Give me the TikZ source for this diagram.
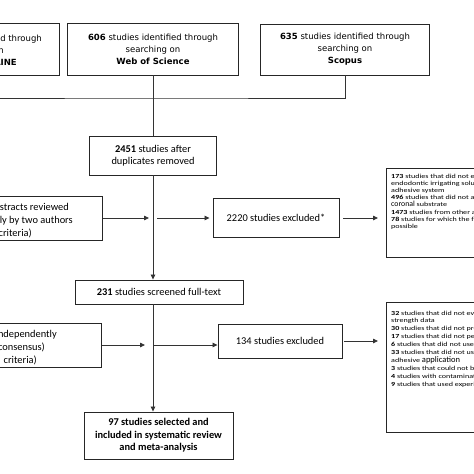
\documentclass[tikz,border=0pt]{standalone}
\usepackage{fontspec}
\setmainfont{Carlito}
\newfontfamily\verd{DejaVu Sans}
\newfontfamily\narrow[FakeStretch=1.3]{Carlito}
\usetikzlibrary{arrows.meta}
\begin{document}
\begin{tikzpicture}[x=1pt, y=-1pt, inner sep=0pt,
    box/.style={draw=black!85, line width=.9pt, align=center,
      font=\fontsize{10.4}{12.5}\selectfont},
    src/.style={box, minimum width=171pt, minimum height=52pt,
      font=\verd\fontsize{8.5}{12}\selectfont},
    note/.style={draw=black!85, line width=.9pt, minimum width=200pt},
    small/.style={align=left, font=\narrow\fontsize{6.2}{7.2}\selectfont},
    cut/.style={anchor=base east, font=\fontsize{10.4}{12.5}\selectfont},
    link/.style={draw=black!80, line width=.8pt},
    arr/.style={link, -{Triangle[length=5pt, width=4.5pt]}}]
  \useasboundingbox (0,0) rectangle (474,474);
  \clip (0,0) rectangle (474,474);
  % sources
  \node[src] (med) at (-26,49) {};
  \node[cut, font=\verd\fontsize{8.5}{12}\selectfont] (med1) at (42,41) {studies identified through};
  \node[cut, font=\verd\fontsize{8.5}{12}\selectfont] (med2) at (4,53) {searching on};
  \node[cut, font=\verd\bfseries\fontsize{8.5}{12}\selectfont] (med3) at (17,65) {MEDLINE};
  \node[src] (wos) at (153,49) {\textbf{606} studies identified through\\searching on\\\textbf{Web of Science}};
  \node[src, minimum width=169pt, minimum height=51pt] (sco) at (345,49.5) {\textbf{635} studies identified through\\searching on\\\textbf{Scopus}};
  \coordinate (join) at (153,98);
  \draw[link] (med.south) |- (join) -| (sco.south);
  \draw[link] (wos.south) -- (join);
  % screening
  \node[box, minimum width=127pt, minimum height=39pt] (dup) at (153,155.5) {\textbf{2451} studies after\\duplicates removed};
  \draw[link] (join) -- (dup.north);
  \node[note, minimum height=44pt, anchor=east] (scr) at (103,218) {};
  \node[cut] (scr1) at (69,210) {abstracts reviewed};
  \node[cut] (scr2) at (73,223) {individually by two authors};
  \node[cut] (scr3) at (32,236) {(eligibility criteria)};
  \node[box, minimum width=126pt, minimum height=39pt] (exc1) at (276,218) {2220 studies excluded*};
  \node[note, minimum height=89pt, anchor=west] (rsn1) at (386,212.5) {};
  \node[small, anchor=north west] (rsn1t) at ([shift={(5pt,-6pt)}]rsn1.north west) {\textbf{173} studies that did not evaluate\\endodontic irrigating solutions\\adhesive system\\\textbf{496} studies that did not assess\\{\rmfamily\fontsize{7.8}{7}\selectfont coronal} substrate\\\textbf{1473} studies from other areas\\\textbf{78} studies for which the full\\possible};
  \coordinate (cut1) at (dup.south |- scr.east);
  \draw[arr] (scr.east) -- ([xshift=-4pt]cut1);
  \draw[arr] ([xshift=4pt]cut1) -- ([xshift=-3pt]exc1.west);
  \draw[arr, shorten <=4pt, shorten >=8pt] (exc1.east) -- (exc1.east -| rsn1.west);
  % full text
  \node[box, minimum width=168pt, minimum height=24pt] (ful) at (159,292) {\textbf{231} studies screened full-text};
  \draw[arr] (dup.south) -- (dup.south |- ful.north);
  \node[note, minimum height=44pt, anchor=east] (ftr) at (102,345) {};
  \node[cut] (ftr1) at (57,337) {independently};
  \node[cut] (ftr2) at (45,350) {(consensus)};
  \node[cut] (ftr3) at (37,363) {criteria)};
  \node[box, minimum width=124pt, minimum height=34pt] (exc2) at (280,341) {134 studies excluded};
  \node[note, minimum height=130pt, anchor=west] (rsn2) at (386,367) {};
  \node[small, anchor=north west, font=\narrow\fontsize{6.2}{7.9}\selectfont] (rsn2t) at ([shift={(5pt,-9pt)}]rsn2.north west) {\textbf{32} studies that did not evaluate\\strength data\\\textbf{30} studies that did not present\\\textbf{17} studies that did not perform\\\textbf{6} studies that did not use\\\textbf{33} studies that did not use\\adhesive {\rmfamily\fontsize{8.5}{8}\selectfont application}\\\textbf{3} studies that could not be\\\textbf{4} studies with contamination\\\textbf{9} studies that used experimental};
  \coordinate (cut2) at (dup.south |- ftr.east);
  \draw[arr, shorten >=8pt] (ftr.east) -- (cut2);
  \draw[arr] (cut2) -- (cut2 -| exc2.west);
  \draw[arr, shorten <=2pt, shorten >=8pt] (exc2.east) -- (exc2.east -| rsn2.west);
  % included
  \node[box, minimum width=149pt, minimum height=47pt, font=\bfseries\fontsize{10.4}{12.5}\selectfont] (inc) at (158.5,435.5) {97 studies selected and\\included in systematic review\\and meta-analysis};
  \draw[arr] (dup.south |- ful.south) -- (dup.south |- inc.north);
\end{tikzpicture}
\end{document}
